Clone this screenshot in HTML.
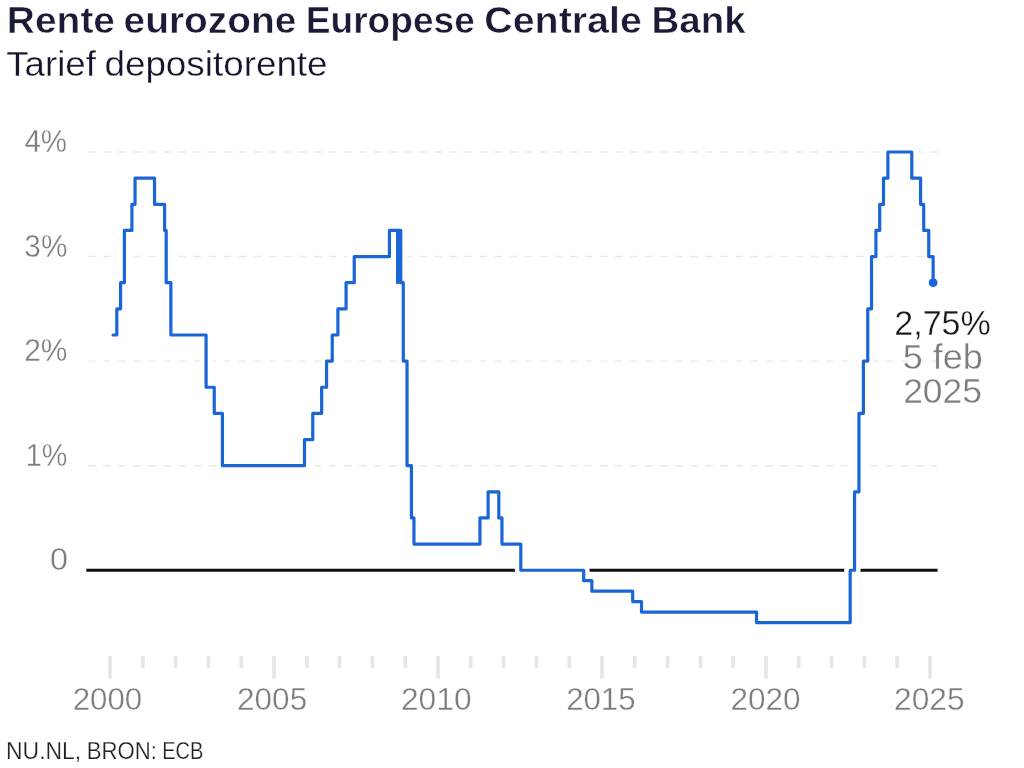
<!DOCTYPE html>
<html lang="nl">
<head>
<meta charset="utf-8">
<title>Rente eurozone Europese Centrale Bank</title>
<style>
html,body{margin:0;padding:0;background:#fff;}
body{width:1024px;height:768px;overflow:hidden;font-family:"Liberation Sans",sans-serif;}
svg{display:block;}
text{font-family:"Liberation Sans",sans-serif;}
.title{font-weight:700;fill:#1a1b36;}
.sub{fill:#14152c;}
.ax{fill:#7d7d7d;}
.an1{fill:#1a1a1a;}
.foot{fill:#222222;}
</style>
</head>
<body>
<svg width="1024" height="768" viewBox="0 0 1024 768">
<rect width="1024" height="768" fill="#ffffff"/>
<g stroke="#e9e9e9" stroke-width="1.4" stroke-dasharray="7.5 7.55" fill="none"><line x1="88.3" x2="937.6" y1="465.69" y2="465.69"/><line x1="88.3" x2="937.6" y1="361.12" y2="361.12"/><line x1="88.3" x2="937.6" y1="256.56" y2="256.56"/><line x1="88.3" x2="937.6" y1="152.00" y2="152.00"/></g>
<line x1="86.3" x2="937.6" y1="570.25" y2="570.25" stroke="#111111" stroke-width="3.0"/>
<g stroke="#e6e6e6" stroke-width="3.6" fill="none"><line x1="110.00" x2="110.00" y1="656" y2="678.6"/><line x1="142.86" x2="142.86" y1="656" y2="667.8"/><line x1="175.64" x2="175.64" y1="656" y2="667.8"/><line x1="208.41" x2="208.41" y1="656" y2="667.8"/><line x1="241.19" x2="241.19" y1="656" y2="667.8"/><line x1="274.05" x2="274.05" y1="656" y2="678.6"/><line x1="306.83" x2="306.83" y1="656" y2="667.8"/><line x1="339.60" x2="339.60" y1="656" y2="667.8"/><line x1="372.38" x2="372.38" y1="656" y2="667.8"/><line x1="405.24" x2="405.24" y1="656" y2="667.8"/><line x1="438.02" x2="438.02" y1="656" y2="678.6"/><line x1="470.79" x2="470.79" y1="656" y2="667.8"/><line x1="503.57" x2="503.57" y1="656" y2="667.8"/><line x1="536.43" x2="536.43" y1="656" y2="667.8"/><line x1="569.21" x2="569.21" y1="656" y2="667.8"/><line x1="601.98" x2="601.98" y1="656" y2="678.6"/><line x1="634.76" x2="634.76" y1="656" y2="667.8"/><line x1="667.62" x2="667.62" y1="656" y2="667.8"/><line x1="700.40" x2="700.40" y1="656" y2="667.8"/><line x1="733.17" x2="733.17" y1="656" y2="667.8"/><line x1="765.95" x2="765.95" y1="656" y2="678.6"/><line x1="798.81" x2="798.81" y1="656" y2="667.8"/><line x1="831.59" x2="831.59" y1="656" y2="667.8"/><line x1="864.36" x2="864.36" y1="656" y2="667.8"/><line x1="897.14" x2="897.14" y1="656" y2="667.8"/><line x1="930.00" x2="930.00" y1="656" y2="678.6"/></g>
<path d="M113.05 334.98H116.82V308.84H120.60V282.70H124.37V230.42H131.91V204.28H135.05V178.14H154.54V204.28H164.59V230.42H166.21V282.70H170.88V334.98H206.08V387.27H214.25V413.41H222.42V465.69H304.49V439.55H312.76V413.41H321.64V387.27H326.58V361.12H332.24V334.98H337.90V308.84H346.07V282.70H354.24V256.56H389.44V230.42H397.61V282.70H397.70V230.42H400.75V282.70H403.27V361.12H407.04V465.69H411.44V517.97H413.95V544.11H479.95V517.97H488.12V491.83H498.81V517.97H501.95V544.11H520.81V570.25H583.66V580.71H591.84V591.16H632.69V601.62H641.49V612.08H756.52V622.53H850.17V570.25H854.57V491.83H858.97V413.41H863.37V361.12H867.77V308.84H871.54V256.56H875.94V230.42H879.72V204.28H883.49V178.14H887.89V152.00H911.77V178.14H920.57V204.28H923.71V230.42H928.74V256.56H933.14V282.70" fill="none" stroke="#ffffff" stroke-width="12" stroke-linejoin="round" stroke-linecap="butt"/>
<path d="M113.05 334.98H116.82V308.84H120.60V282.70H124.37V230.42H131.91V204.28H135.05V178.14H154.54V204.28H164.59V230.42H166.21V282.70H170.88V334.98H206.08V387.27H214.25V413.41H222.42V465.69H304.49V439.55H312.76V413.41H321.64V387.27H326.58V361.12H332.24V334.98H337.90V308.84H346.07V282.70H354.24V256.56H389.44V230.42H397.61V282.70H397.70V230.42H400.75V282.70H403.27V361.12H407.04V465.69H411.44V517.97H413.95V544.11H479.95V517.97H488.12V491.83H498.81V517.97H501.95V544.11H520.81V570.25H583.66V580.71H591.84V591.16H632.69V601.62H641.49V612.08H756.52V622.53H850.17V570.25H854.57V491.83H858.97V413.41H863.37V361.12H867.77V308.84H871.54V256.56H875.94V230.42H879.72V204.28H883.49V178.14H887.89V152.00H911.77V178.14H920.57V204.28H923.71V230.42H928.74V256.56H933.14V282.70" fill="none" stroke="#1a66d6" stroke-width="3.2" stroke-linejoin="round" stroke-linecap="round"/>
<circle cx="933.14" cy="282.70" r="4.4" fill="#1a66d6"/>
<g><text class="title" y="33.4" font-size="37.2" stroke="#ffffff" stroke-width="0.5" stroke-linejoin="round"><tspan x="6.76" textLength="108.3" lengthAdjust="spacingAndGlyphs">Rente</tspan> <tspan x="123.54" textLength="172.93" lengthAdjust="spacingAndGlyphs">eurozone</tspan> <tspan x="305.75" textLength="169.13" lengthAdjust="spacingAndGlyphs">Europese</tspan> <tspan x="484.27" textLength="157.56" lengthAdjust="spacingAndGlyphs">Centrale</tspan> <tspan x="651.49" textLength="94.18" lengthAdjust="spacingAndGlyphs">Bank</tspan></text><text class="sub" y="75.6" font-size="35.5" stroke="#ffffff" stroke-width="0.3" stroke-linejoin="round"><tspan x="6.21" textLength="89.7" lengthAdjust="spacingAndGlyphs">Tarief</tspan> <tspan x="104.43" textLength="223.15" lengthAdjust="spacingAndGlyphs">depositorente</tspan></text><text class="ax" x="24.43" y="152" font-size="31.4" text-anchor="start" textLength="42.63" lengthAdjust="spacingAndGlyphs" stroke="#ffffff" stroke-width="0.35" stroke-linejoin="round">4%</text><text class="ax" x="24.37" y="256.6" font-size="31.4" text-anchor="start" textLength="42.99" lengthAdjust="spacingAndGlyphs" stroke="#ffffff" stroke-width="0.35" stroke-linejoin="round">3%</text><text class="ax" x="24.16" y="361.1" font-size="31.4" text-anchor="start" textLength="43.27" lengthAdjust="spacingAndGlyphs" stroke="#ffffff" stroke-width="0.35" stroke-linejoin="round">2%</text><text class="ax" x="25.67" y="465.7" font-size="31.4" text-anchor="start" textLength="41.63" lengthAdjust="spacingAndGlyphs" stroke="#ffffff" stroke-width="0.35" stroke-linejoin="round">1%</text><text class="ax" x="50.11" y="570.25" font-size="31.4" text-anchor="start" textLength="18.02" lengthAdjust="spacingAndGlyphs" stroke="#ffffff" stroke-width="0.35" stroke-linejoin="round">0</text><text class="ax" x="72.69" y="709.75" font-size="31.4" text-anchor="start" textLength="69.56" lengthAdjust="spacingAndGlyphs" stroke="#ffffff" stroke-width="0.35" stroke-linejoin="round">2000</text><text class="ax" x="237.06" y="709.75" font-size="31.4" text-anchor="start" textLength="70.13" lengthAdjust="spacingAndGlyphs" stroke="#ffffff" stroke-width="0.35" stroke-linejoin="round">2005</text><text class="ax" x="400.98" y="709.75" font-size="31.4" text-anchor="start" textLength="70.62" lengthAdjust="spacingAndGlyphs" stroke="#ffffff" stroke-width="0.35" stroke-linejoin="round">2010</text><text class="ax" x="566.13" y="709.75" font-size="31.4" text-anchor="start" textLength="69.4" lengthAdjust="spacingAndGlyphs" stroke="#ffffff" stroke-width="0.35" stroke-linejoin="round">2015</text><text class="ax" x="730.52" y="709.75" font-size="31.4" text-anchor="start" textLength="70.15" lengthAdjust="spacingAndGlyphs" stroke="#ffffff" stroke-width="0.35" stroke-linejoin="round">2020</text><text class="ax" x="894.05" y="709.75" font-size="31.4" text-anchor="start" textLength="70.48" lengthAdjust="spacingAndGlyphs" stroke="#ffffff" stroke-width="0.35" stroke-linejoin="round">2025</text><text class="an1" x="894.27" y="334.7" font-size="35.4" text-anchor="start" textLength="96.56" lengthAdjust="spacingAndGlyphs" stroke="#ffffff" stroke-width="0.35" stroke-linejoin="round">2,75%</text><text class="ax" x="902.82" y="368.5" font-size="35.4" text-anchor="start" textLength="80.0" lengthAdjust="spacingAndGlyphs" stroke="#ffffff" stroke-width="0.35" stroke-linejoin="round">5 feb</text><text class="ax" x="903.17" y="402.7" font-size="35.4" text-anchor="start" textLength="78.71" lengthAdjust="spacingAndGlyphs" stroke="#ffffff" stroke-width="0.35" stroke-linejoin="round">2025</text><text class="foot" y="758.9" font-size="24.0" stroke="#ffffff" stroke-width="0.25" stroke-linejoin="round"><tspan x="6.06" textLength="75.19" lengthAdjust="spacingAndGlyphs">NU.NL,</tspan> <tspan x="86.78" textLength="70.13" lengthAdjust="spacingAndGlyphs">BRON:</tspan> <tspan x="162.17" textLength="41.26" lengthAdjust="spacingAndGlyphs">ECB</tspan></text></g>
</svg>
</body>
</html>
